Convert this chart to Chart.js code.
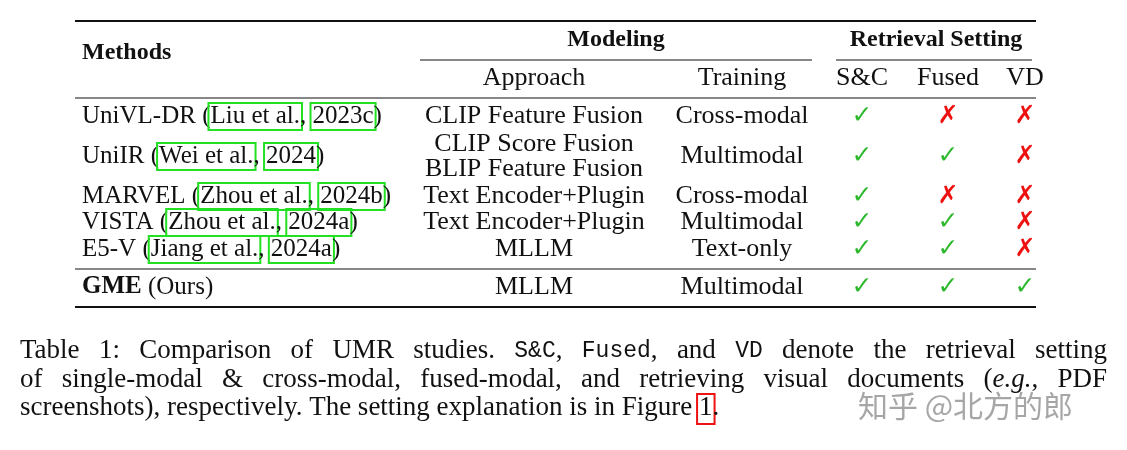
<!DOCTYPE html>
<html><head><meta charset="utf-8">
<script src="https://cdn.jsdelivr.net/npm/chart.js@4/dist/chart.umd.min.js"></script>
<style>html,body{margin:0;padding:0;background:#fff}canvas{display:block}</style>
</head><body><canvas id="c" width="1127" height="450"></canvas>
<script>
// ---- data ----
const methods = ["UniVL-DR","UniIR","MARVEL","VISTA","E5-V","GME"];
const citeAuthors = ["Liu et al.","Wei et al.","Zhou et al.","Zhou et al.","Jiang et al.",null];
const citeYears = ["2023c","2024","2024b","2024a","2024a",null];
const approaches = [["CLIP Feature Fusion"],["CLIP Score Fusion","BLIP Feature Fusion"],["Text Encoder+Plugin"],["Text Encoder+Plugin"],["MLLM"],["MLLM"]];
const trainings = ["Cross-modal","Multimodal","Cross-modal","Multimodal","Text-only","Multimodal"];
const sc = [1,1,1,1,1,1];
const fused = [0,1,0,1,1,1];
const vd = [0,0,0,0,0,1];
const colHeaders = ["Approach","Training","S&C","Fused","VD"];
const groupHeaders = ["Modeling","Retrieval Setting"];

// ---- layout (not data) ----
const colX = {methods:82, approach:534, training:742, sc:862, fused:948, vd:1025};
const rowY = [116,156,196,222,249,287];
const SERIF = '"Liberation Serif", serif';

const plugin = {
  id:'table',
  afterDraw(chart){
    const ctx = chart.ctx, X = chart.scales.x, Y = chart.scales.y;
    const px = v=>X.getPixelForValue(v), py = v=>Y.getPixelForValue(v);
    ctx.save();
    ctx.fillStyle='#fff'; ctx.fillRect(0,0,1127,450);
    ctx.fillStyle='#111'; ctx.strokeStyle='#111';
    const hline=(x1,x2,y,w)=>{ctx.lineWidth=w;ctx.beginPath();ctx.moveTo(px(x1),py(y));ctx.lineTo(px(x2),py(y));ctx.stroke();};
    hline(75,1036,21,2); hline(420,812,60,1); hline(836,1032,60,1);
    hline(75,1036,98,1.2); hline(75,1036,269,1.2); hline(75,1036,307,2);
    ctx.textBaseline='middle';
    ctx.font='bold 24px '+SERIF; ctx.textAlign='left';
    ctx.fillText("Methods",px(colX.methods),py(53));
    ctx.textAlign='center';
    ctx.fillText(groupHeaders[0],px(616),py(40));
    ctx.fillText(groupHeaders[1],px(936),py(40));
    ctx.font='26px '+SERIF;
    const hx=[colX.approach,colX.training,colX.sc,colX.fused,colX.vd];
    colHeaders.forEach((h,i)=>ctx.fillText(h,px(hx[i]),py(78)));
    methods.forEach((m,i)=>{
      const y=py(rowY[i]);
      let x=px(colX.methods);
      ctx.textAlign='left';
      const seg=(t,bold,box)=>{
        ctx.font=(bold?'bold ':'')+'25px '+SERIF;
        const w=ctx.measureText(t).width;
        ctx.fillStyle='#111'; ctx.fillText(t,x,y);
        if(box){ctx.strokeStyle='#22e022';ctx.lineWidth=2;ctx.strokeRect(x-2,y-13,w+4,27);}
        x+=w;
      };
      if(citeAuthors[i]){
        seg(m+" (",false); seg(citeAuthors[i],false,true); seg(", ",false); seg(citeYears[i],false,true); seg(")",false);
      } else { seg(m,true); seg(" (Ours)",false); }
      ctx.font='26px '+SERIF; ctx.textAlign='center'; ctx.fillStyle='#111';
      const a=approaches[i];
      if(a.length===1) ctx.fillText(a[0],px(colX.approach),y);
      else {ctx.fillText(a[0],px(colX.approach),y-12);ctx.fillText(a[1],px(colX.approach),y+13);}
      ctx.fillText(trainings[i],px(colX.training),y);
      ctx.font='bold 25px "DejaVu Sans"';
      [[sc,colX.sc],[fused,colX.fused],[vd,colX.vd]].forEach(([arr,cx])=>{
        ctx.fillStyle=arr[i]?'#2db82d':'#ee1111';
        ctx.fillText(arr[i]?'✓':'✗',px(cx),y);
      });
    });
    // caption
    const lines=[
      [["Table 1: Comparison of UMR studies.",0],[" S&C",1],[", ",0],["Fused",1],[", and ",0],["VD",1],[" denote the retrieval setting",0]],
      [["of single-modal & cross-modal, fused-modal, and retrieving visual documents (",0],["e.g.",2],[", PDF",0]],
      [["screenshots), respectively. The setting explanation is in Figure ",0],["1",3],[".",0]]
    ];
    const fontOf=k=>k===1?'23px "Liberation Mono"':(k===2?'italic 27px '+SERIF:'27px '+SERIF);
    const ly=[351,380,408];
    ctx.textAlign='left';
    lines.forEach((ln,li)=>{
      const toks=[];
      ln.forEach(([t,k])=>{t.split(/( )/).forEach(p=>{if(p!=='')toks.push([p,k]);});});
      let total=0,spaces=0;
      toks.forEach(([t,k])=>{ctx.font=fontOf(k); if(t===' ')spaces++; else total+=ctx.measureText(t).width;});
      ctx.font=fontOf(0); const sw=ctx.measureText(' ').width;
      const gap = li<2 ? (1107-20-total)/spaces : sw;
      let x=px(20); const y=py(ly[li]);
      toks.forEach(([t,k])=>{
        if(t===' '){x+=gap;return;}
        ctx.font=fontOf(k); ctx.fillStyle='#111';
        const w=ctx.measureText(t).width;
        ctx.fillText(t,x,y);
        if(k===3){ctx.strokeStyle='#ee1111';ctx.lineWidth=2;ctx.strokeRect(x-2,y-14,w+4,30);}
        x+=w;
      });
    });
    ctx.font='30px "Noto Sans CJK SC"'; ctx.fillStyle='rgba(150,150,150,0.85)';
    ctx.fillText("知乎 @北方的郎",px(858),py(406));
    ctx.restore();
  }
};

new Chart(document.getElementById('c'),{
  type:'scatter',
  data:{datasets:[{data:[]}]},
  options:{responsive:false,animation:false,events:[],
    layout:{padding:0},
    plugins:{legend:{display:false},tooltip:{enabled:false}},
    scales:{x:{type:'linear',min:0,max:1127,display:false},
            y:{type:'linear',min:0,max:450,reverse:true,display:false}}},
  plugins:[plugin]
});
</script></body></html>
